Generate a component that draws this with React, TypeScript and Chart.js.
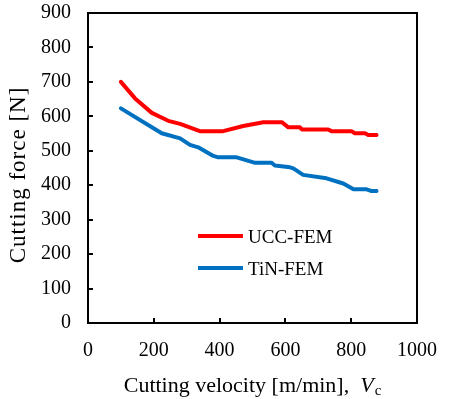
import React, { useEffect, useRef } from "react";
import { Chart, registerables } from "chart.js";

Chart.register(...registerables);

const xTicks = [0, 200, 400, 600, 800, 1000];
const yTicks = [0, 100, 200, 300, 400, 500, 600, 700, 800, 900];

const uccVelocity = [100, 143, 194, 244, 280, 340, 411, 472, 533, 589, 609, 644, 650, 730, 740, 801, 811, 842, 852, 877];
const uccForce = [700, 652, 610, 587, 578, 557, 557, 572, 583, 583, 568, 568, 562, 562, 557, 557, 551, 551, 546, 546];

const tinVelocity = [100, 224, 280, 310, 335, 381, 396, 452, 508, 558, 568, 614, 624, 654, 725, 776, 807, 847, 862, 877];
const tinForce = [623, 551, 536, 517, 510, 485, 481, 481, 465, 465, 457, 452, 449, 430, 420, 405, 388, 388, 383, 383];

const seriesNames = ["UCC-FEM", "TiN-FEM"];
const seriesColors = ["#ff0000", "#0070c0"];

const SERIF = "'Liberation Serif', 'Times New Roman', serif";

const framePlugin = {
  id: "frame",
  afterDraw(chart: any) {
    const ctx = chart.ctx as CanvasRenderingContext2D;
    const { left, right, top, bottom } = chart.chartArea;
    const xs = chart.scales.x;
    const ys = chart.scales.y;
    ctx.save();
    ctx.strokeStyle = "#000";
    ctx.lineWidth = 2;
    ctx.strokeRect(left, top, right - left, bottom - top);
    ctx.beginPath();
    for (const v of xTicks) {
      const px = Math.round(xs.getPixelForValue(v));
      ctx.moveTo(px, bottom);
      ctx.lineTo(px, bottom - 5);
    }
    for (const v of yTicks) {
      const py = Math.round(ys.getPixelForValue(v));
      ctx.moveTo(left, py);
      ctx.lineTo(left + 5, py);
    }
    ctx.stroke();

    // legend
    const legendLeft = left + 110;
    const rows = [236, 268];
    seriesNames.forEach((name, i) => {
      const y = rows[i];
      ctx.strokeStyle = seriesColors[i];
      ctx.lineWidth = 4;
      ctx.beginPath();
      ctx.moveTo(legendLeft, y);
      ctx.lineTo(legendLeft + 45, y);
      ctx.stroke();
      ctx.fillStyle = "#000";
      ctx.font = `19px ${SERIF}`;
      ctx.textBaseline = "middle";
      ctx.textAlign = "left";
      ctx.fillText(name, legendLeft + 50, y + 2);
    });

    // x title
    const cx = (left + right) / 2;
    const main = "Cutting velocity [m/min],  ";
    ctx.fillStyle = "#000";
    ctx.textBaseline = "alphabetic";
    ctx.textAlign = "left";
    ctx.font = `22px ${SERIF}`;
    const w1 = ctx.measureText(main).width;
    ctx.font = `italic 22px ${SERIF}`;
    const w2 = ctx.measureText("V").width;
    ctx.font = `15px ${SERIF}`;
    const w3 = ctx.measureText("c").width;
    const total = w1 + w2 + w3 + 1;
    let x0 = cx - total / 2;
    const base = 392;
    ctx.font = `22px ${SERIF}`;
    ctx.fillText(main, x0, base);
    x0 += w1;
    ctx.font = `italic 22px ${SERIF}`;
    ctx.fillText("V", x0, base);
    x0 += w2 + 1;
    ctx.font = `15px ${SERIF}`;
    ctx.fillText("c", x0, base + 3);

    // y title
    ctx.save();
    ctx.translate(25, 175);
    ctx.rotate(-Math.PI / 2);
    ctx.font = `23px ${SERIF}`;
    (ctx as any).letterSpacing = "1px";
    ctx.textAlign = "center";
    ctx.textBaseline = "alphabetic";
    ctx.fillText("Cutting force [N]", 0, 0);
    ctx.restore();

    ctx.restore();
  },
};

export default function App() {
  const ref = useRef<HTMLCanvasElement | null>(null);
  useEffect(() => {
    if (!ref.current) return;
    const chart = new Chart(ref.current, {
      type: "line",
      data: {
        datasets: [
          {
            label: seriesNames[0],
            data: uccVelocity.map((x, i) => ({ x, y: uccForce[i] })),
            borderColor: seriesColors[0],
            backgroundColor: seriesColors[0],
            borderWidth: 4,
            pointRadius: 0,
            tension: 0,
            borderCapStyle: "round",
            borderJoinStyle: "round",
          },
          {
            label: seriesNames[1],
            data: tinVelocity.map((x, i) => ({ x, y: tinForce[i] })),
            borderColor: seriesColors[1],
            backgroundColor: seriesColors[1],
            borderWidth: 4,
            pointRadius: 0,
            tension: 0,
            borderCapStyle: "round",
            borderJoinStyle: "round",
          },
        ],
      },
      options: {
        responsive: false,
        animation: false,
        layout: { padding: { left: 0, top: 13, right: 57, bottom: 0 } },
        plugins: {
          legend: { display: false },
          tooltip: { enabled: false },
        },
        scales: {
          x: {
            type: "linear",
            min: 0,
            max: 1000,
            afterBuildTicks: (s: any) => {
              s.ticks = xTicks.map((v) => ({ value: v }));
            },
            ticks: {
              font: { family: SERIF, size: 20 },
              color: "#000",
              padding: 16,
              maxRotation: 0,
              autoSkip: false,
              callback: (v: any) => String(v),
            },
            grid: { display: false, drawTicks: false },
            border: { display: false },
            afterFit: (s: any) => {
              s.height = 76;
              s.paddingLeft = 0;
              s.paddingRight = 0;
            },
          },
          y: {
            type: "linear",
            min: 0,
            max: 900,
            afterBuildTicks: (s: any) => {
              s.ticks = yTicks.map((v) => ({ value: v }));
            },
            ticks: {
              font: { family: SERIF, size: 20 },
              color: "#000",
              padding: 17,
              autoSkip: false,
              callback: (v: any) => String(v),
            },
            grid: { display: false, drawTicks: false },
            border: { display: false },
            afterFit: (s: any) => {
              s.width = 88;
              s.paddingTop = 0;
              s.paddingBottom = 0;
            },
          },
        },
      },
      plugins: [framePlugin],
    });
    return () => chart.destroy();
  }, []);
  return (
    <div style={{ position: "fixed", left: 0, top: 0, width: 474, height: 399, background: "#fff" }}>
      <canvas ref={ref} width={474} height={399} style={{ width: 474, height: 399, display: "block" }} />
    </div>
  );
}
